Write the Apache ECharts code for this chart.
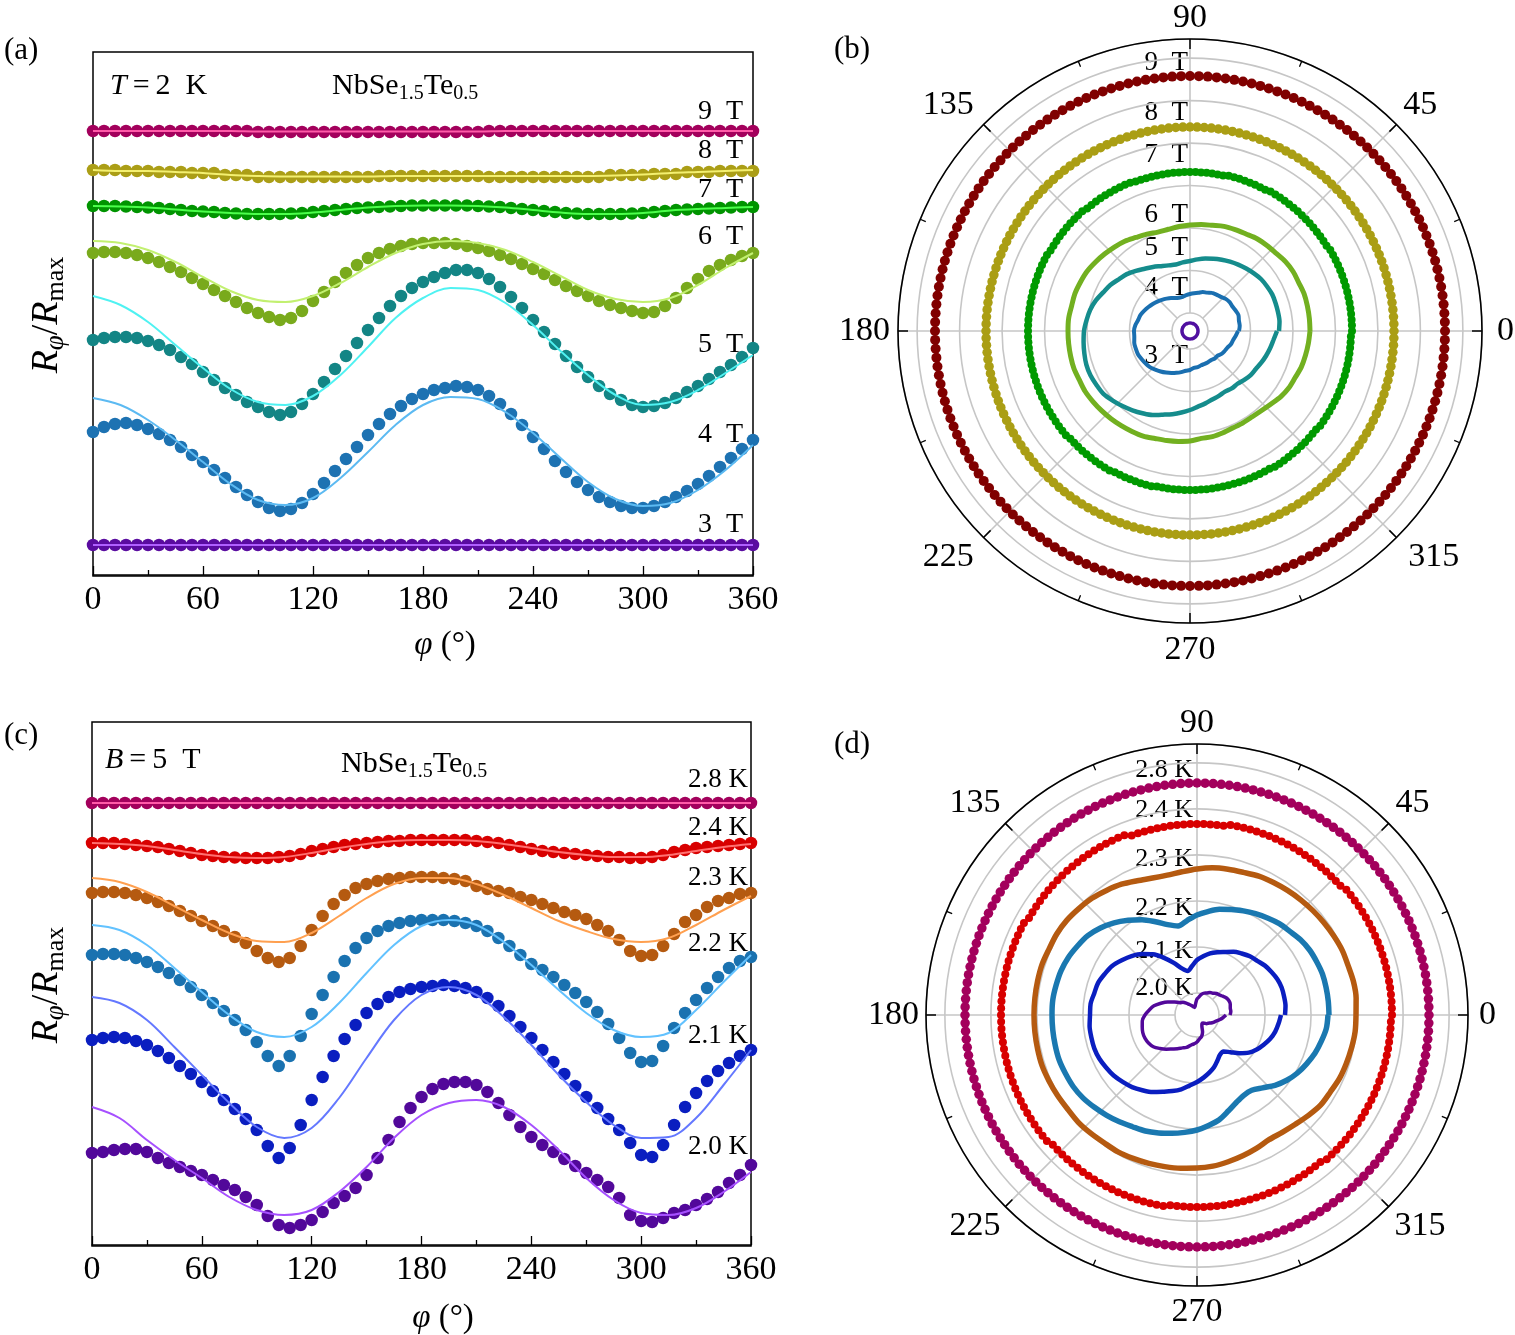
<!DOCTYPE html>
<html>
<head>
<meta charset="utf-8">
<script src="https://cdn.jsdelivr.net/npm/echarts@6/dist/echarts.min.js"></script>
<style>
html, body { margin: 0; padding: 0; background: #fff; }
#main { width: 1515px; height: 1335px; }
</style>
</head>
<body>
<div id="main"></div>
<script>
// ---- panel (a): T = 2 K, offset R/Rmax, points every 6 deg, fits every 15 deg
const a9T = [4.44,4.44,4.44,4.44,4.44,4.44,4.44,4.44,4.44,4.44,
  4.44,4.44,4.44,4.44,4.44,4.43,4.43,4.43,4.43,4.43,
  4.43,4.43,4.43,4.43,4.43,4.43,4.43,4.43,4.43,4.43,
  4.43,4.43,4.43,4.43,4.43,4.43,4.44,4.44,4.44,4.44,
  4.44,4.44,4.44,4.44,4.44,4.44,4.44,4.44,4.44,4.44,
  4.44,4.44,4.44,4.44,4.44,4.44,4.44,4.44,4.44,4.44,4.44];
const a9Tfit = [4.44,4.44,4.44,4.44,4.44,4.44,4.435,4.435,4.435,4.435,4.435,4.435,4.435,4.435,4.435,
  4.44,4.44,4.44,4.44,4.44,4.44,4.44,4.44,4.44,4.44];
const a8T = [4.05,4.05,4.05,4.04,4.04,4.04,4.03,4.03,4.03,4.02,
  4.02,4.02,4.00,4.00,4.00,3.98,3.98,3.98,3.98,3.98,
  3.98,3.98,3.98,3.98,3.98,3.98,3.99,3.99,3.99,3.99,
  3.99,3.99,3.99,3.99,3.99,3.99,3.98,3.98,3.98,3.98,
  3.98,3.98,3.98,3.98,3.98,3.98,3.98,4.00,4.00,4.00,
  4.00,4.01,4.01,4.01,4.03,4.03,4.03,4.04,4.04,4.04,4.04];
const a8Tfit = [4.05,4.04,4.04,4.03,4.02,4.00,3.99,3.985,3.985,3.985,3.985,3.99,3.99,3.99,3.99,
  3.99,3.99,3.99,3.99,3.995,4.005,4.02,4.03,4.04,4.05];
const a7T = [3.69,3.69,3.69,3.685,3.68,3.675,3.67,3.66,3.65,3.64,
  3.635,3.63,3.62,3.615,3.61,3.61,3.61,3.61,3.615,3.62,
  3.63,3.64,3.65,3.66,3.67,3.675,3.68,3.685,3.69,3.695,
  3.695,3.695,3.695,3.695,3.695,3.69,3.685,3.68,3.67,3.66,
  3.65,3.64,3.63,3.62,3.615,3.61,3.61,3.61,3.61,3.615,
  3.62,3.63,3.64,3.65,3.655,3.66,3.665,3.67,3.675,3.68,3.68];
const a7Tfit = [3.69,3.685,3.675,3.655,3.635,3.62,3.61,3.61,3.625,3.65,3.675,3.69,3.695,3.695,3.69,
  3.675,3.65,3.625,3.61,3.61,3.62,3.645,3.66,3.67,3.68];
const a6T = [3.22,3.23,3.23,3.22,3.20,3.17,3.13,3.08,3.03,2.97,
  2.91,2.85,2.79,2.73,2.67,2.62,2.58,2.55,2.57,2.64,
  2.74,2.83,2.93,3.02,3.10,3.17,3.22,3.26,3.29,3.31,
  3.32,3.32,3.32,3.31,3.29,3.27,3.24,3.20,3.16,3.11,
  3.06,3.01,2.95,2.89,2.84,2.79,2.74,2.70,2.67,2.64,
  2.62,2.63,2.69,2.77,2.87,2.96,3.04,3.10,3.15,3.19,3.22];
const a6Tfit = [3.34,3.32,3.25,3.13,2.98,2.84,2.75,2.73,2.79,2.92,3.08,3.22,3.31,3.34,3.32,
  3.25,3.13,2.99,2.85,2.76,2.73,2.77,2.90,3.07,3.22];
const a5T = [2.35,2.37,2.38,2.38,2.37,2.34,2.30,2.25,2.18,2.11,
  2.03,1.95,1.87,1.80,1.73,1.68,1.63,1.60,1.63,1.71,
  1.81,1.93,2.06,2.19,2.32,2.45,2.57,2.69,2.79,2.87,
  2.93,2.98,3.02,3.05,3.05,3.02,2.96,2.88,2.78,2.67,
  2.55,2.43,2.31,2.19,2.08,1.98,1.89,1.81,1.75,1.70,
  1.68,1.69,1.72,1.77,1.83,1.89,1.96,2.03,2.10,2.18,2.27];
const a5Tfit = [2.79,2.70,2.53,2.30,2.07,1.86,1.73,1.70,1.79,2.00,2.28,2.57,2.77,2.87,2.85,
  2.72,2.50,2.24,2.00,1.80,1.70,1.73,1.85,2.02,2.20];
const a4T = [1.43,1.48,1.51,1.52,1.50,1.46,1.41,1.35,1.28,1.20,
  1.13,1.05,0.97,0.88,0.80,0.73,0.67,0.64,0.66,0.72,
  0.81,0.92,1.04,1.16,1.28,1.40,1.51,1.61,1.69,1.76,
  1.81,1.85,1.87,1.89,1.88,1.85,1.79,1.71,1.61,1.50,
  1.38,1.26,1.14,1.03,0.93,0.85,0.78,0.73,0.69,0.67,
  0.67,0.69,0.73,0.78,0.84,0.91,0.99,1.08,1.17,1.26,1.35];
const a4Tfit = [1.77,1.70,1.55,1.35,1.13,0.91,0.75,0.70,0.77,0.97,1.23,1.50,1.70,1.78,1.76,
  1.63,1.42,1.17,0.93,0.76,0.69,0.72,0.85,1.05,1.30];
const a3T = [0.30,0.30,0.30,0.30,0.30,0.30,0.30,0.30,0.30,0.30,
  0.30,0.30,0.30,0.30,0.30,0.30,0.30,0.30,0.30,0.30,
  0.30,0.30,0.30,0.30,0.30,0.30,0.30,0.30,0.30,0.30,
  0.30,0.30,0.30,0.30,0.30,0.30,0.30,0.30,0.30,0.30,
  0.30,0.30,0.30,0.30,0.30,0.30,0.30,0.30,0.30,0.30,
  0.30,0.30,0.30,0.30,0.30,0.30,0.30,0.30,0.30,0.30,0.30];
const a3Tfit = [0.30,0.30,0.30,0.30,0.30,0.30,0.30,0.30,0.30,0.30,0.30,0.30,0.30,0.30,0.30,
  0.30,0.30,0.30,0.30,0.30,0.30,0.30,0.30,0.30,0.30];

// ---- panel (c): B = 5 T
const c28K = [4.42,4.42,4.42,4.42,4.42,4.42,4.42,4.42,4.42,4.42,
  4.42,4.42,4.42,4.42,4.42,4.42,4.42,4.42,4.42,4.42,
  4.42,4.42,4.42,4.42,4.42,4.42,4.42,4.42,4.42,4.42,
  4.42,4.42,4.42,4.42,4.42,4.42,4.42,4.42,4.42,4.42,
  4.42,4.42,4.42,4.42,4.42,4.42,4.42,4.42,4.42,4.42,
  4.42,4.42,4.42,4.42,4.42,4.42,4.42,4.42,4.42,4.42,4.42];
const c28Kfit = [4.42,4.42,4.42,4.42,4.42,4.42,4.42,4.42,4.42,4.42,4.42,4.42,4.42,4.42,4.42,
  4.42,4.42,4.42,4.42,4.42,4.42,4.42,4.42,4.42,4.42];
const c24K = [4.02,4.02,4.02,4.01,4.00,3.99,3.98,3.96,3.94,3.92,
  3.90,3.89,3.88,3.875,3.87,3.87,3.87,3.88,3.89,3.91,
  3.94,3.96,3.98,4.00,4.01,4.02,4.03,4.04,4.04,4.05,
  4.05,4.05,4.05,4.05,4.05,4.04,4.03,4.02,4.00,3.98,
  3.96,3.94,3.93,3.92,3.91,3.90,3.89,3.88,3.88,3.87,
  3.87,3.88,3.90,3.93,3.95,3.97,3.98,3.99,4.00,4.01,4.02];
const c24Kfit = [4.02,4.01,3.99,3.95,3.91,3.88,3.87,3.88,3.92,3.97,4.01,4.04,4.05,4.05,4.04,
  4.01,3.97,3.93,3.90,3.88,3.88,3.90,3.94,3.98,4.01];
const c23K = [3.52,3.53,3.53,3.52,3.50,3.47,3.43,3.39,3.34,3.29,
  3.24,3.19,3.14,3.08,3.02,2.94,2.87,2.83,2.87,2.99,
  3.15,3.29,3.41,3.50,3.57,3.61,3.64,3.66,3.67,3.68,
  3.68,3.68,3.67,3.66,3.64,3.59,3.56,3.54,3.52,3.48,
  3.45,3.41,3.37,3.33,3.30,3.26,3.20,3.14,3.05,2.94,
  2.89,2.90,2.99,3.11,3.23,3.30,3.38,3.44,3.47,3.51,3.52];
const c23Kfit = [3.67,3.63,3.53,3.39,3.25,3.12,3.04,3.03,3.12,3.29,3.47,3.61,3.67,3.67,3.61,
  3.50,3.37,3.24,3.14,3.06,3.03,3.07,3.20,3.35,3.49];
const c22K = [2.90,2.91,2.91,2.90,2.87,2.83,2.78,2.72,2.65,2.58,
  2.50,2.42,2.34,2.25,2.15,2.03,1.89,1.79,1.89,2.09,
  2.31,2.50,2.68,2.84,2.97,3.07,3.14,3.19,3.22,3.24,
  3.25,3.25,3.25,3.24,3.22,3.19,3.14,3.07,2.99,2.90,
  2.81,2.75,2.68,2.60,2.52,2.43,2.33,2.21,2.07,1.92,
  1.83,1.84,1.99,2.17,2.32,2.45,2.57,2.68,2.77,2.84,2.88];
const c22Kfit = [3.20,3.15,3.00,2.77,2.53,2.30,2.13,2.08,2.18,2.42,2.72,3.00,3.19,3.25,3.20,
  3.03,2.80,2.55,2.32,2.15,2.08,2.12,2.35,2.63,2.90];
const c21K = [2.05,2.07,2.08,2.07,2.04,2.00,1.94,1.87,1.79,1.71,
  1.63,1.54,1.45,1.36,1.26,1.15,0.99,0.87,0.97,1.20,
  1.45,1.68,1.89,2.06,2.20,2.32,2.41,2.48,2.53,2.56,
  2.58,2.59,2.60,2.59,2.57,2.53,2.47,2.39,2.29,2.18,
  2.07,1.95,1.83,1.71,1.59,1.48,1.37,1.26,1.15,1.02,
  0.90,0.88,1.00,1.20,1.38,1.52,1.64,1.74,1.82,1.89,1.95];
const c21Kfit = [2.48,2.42,2.25,1.98,1.70,1.42,1.18,1.07,1.17,1.47,1.87,2.25,2.50,2.58,2.50,
  2.28,2.00,1.70,1.43,1.20,1.07,1.08,1.27,1.60,1.95];
const c20K = [0.92,0.93,0.95,0.96,0.96,0.93,0.87,0.82,0.78,0.74,
  0.70,0.65,0.60,0.55,0.48,0.40,0.29,0.20,0.17,0.20,
  0.25,0.33,0.42,0.49,0.57,0.70,0.87,1.05,1.23,1.37,
  1.48,1.56,1.61,1.63,1.63,1.60,1.53,1.42,1.30,1.18,
  1.08,1.00,0.93,0.86,0.79,0.72,0.65,0.58,0.47,0.30,
  0.24,0.23,0.27,0.32,0.35,0.40,0.46,0.53,0.62,0.70,0.80];
const c20Kfit = [1.38,1.27,1.05,0.85,0.67,0.48,0.35,0.30,0.35,0.53,0.78,1.07,1.30,1.42,1.45,
  1.38,1.20,0.95,0.67,0.45,0.32,0.30,0.37,0.53,0.73];

// ---- panel (b): polar R(phi) at 2 K, rings every 2 deg, loops every 6 deg
const b9T = [2.55,2.55,2.55,2.55,2.55,2.55,2.55,2.55,2.55,2.55,2.55,2.55,2.55,2.55,2.55,2.55,2.55,2.55,2.55,2.55,
  2.55,2.55,2.55,2.55,2.55,2.55,2.55,2.55,2.55,2.55,2.55,2.55,2.55,2.55,2.55,2.55,2.55,2.55,2.55,2.55,
  2.55,2.55,2.55,2.55,2.55,2.55,2.55,2.55,2.55,2.55,2.55,2.55,2.55,2.55,2.55,2.55,2.55,2.55,2.55,2.55,
  2.55,2.55,2.55,2.55,2.55,2.55,2.55,2.55,2.55,2.55,2.55,2.55,2.55,2.55,2.55,2.55,2.55,2.55,2.55,2.55,
  2.55,2.55,2.55,2.55,2.55,2.55,2.55,2.55,2.55,2.55,2.55,2.55,2.55,2.55,2.55,2.55,2.55,2.55,2.55,2.55,
  2.55,2.55,2.55,2.55,2.55,2.55,2.55,2.55,2.55,2.55,2.55,2.55,2.55,2.55,2.55,2.55,2.55,2.55,2.55,2.55,
  2.55,2.55,2.55,2.55,2.55,2.55,2.55,2.55,2.55,2.55,2.55,2.55,2.55,2.55,2.55,2.55,2.55,2.55,2.55,2.55,
  2.55,2.55,2.55,2.55,2.55,2.55,2.55,2.55,2.55,2.55,2.55,2.55,2.55,2.55,2.55,2.55,2.55,2.55,2.55,2.55,
  2.55,2.55,2.55,2.55,2.55,2.55,2.55,2.55,2.55,2.55,2.55,2.55,2.55,2.55,2.55,2.55,2.55,2.55,2.55,2.55];
const b8T = [2.04,2.04,2.04,2.04,2.04,2.04,2.04,2.04,2.04,2.04,2.04,2.04,2.04,2.04,2.04,2.04,2.04,2.04,2.04,2.04,
  2.04,2.04,2.04,2.04,2.04,2.04,2.04,2.04,2.04,2.04,2.04,2.04,2.04,2.04,2.04,2.04,2.04,2.04,2.04,2.04,
  2.04,2.04,2.04,2.04,2.04,2.04,2.04,2.04,2.04,2.04,2.04,2.04,2.04,2.04,2.04,2.04,2.04,2.04,2.04,2.04,
  2.04,2.04,2.04,2.04,2.04,2.04,2.04,2.04,2.04,2.04,2.04,2.04,2.04,2.04,2.04,2.04,2.04,2.04,2.04,2.04,
  2.04,2.04,2.04,2.04,2.04,2.04,2.04,2.04,2.04,2.04,2.04,2.04,2.04,2.04,2.04,2.04,2.04,2.04,2.04,2.04,
  2.04,2.04,2.04,2.04,2.04,2.04,2.04,2.04,2.04,2.04,2.04,2.04,2.04,2.04,2.04,2.04,2.04,2.04,2.04,2.04,
  2.04,2.04,2.04,2.04,2.04,2.04,2.04,2.04,2.04,2.04,2.04,2.04,2.04,2.04,2.04,2.04,2.04,2.04,2.04,2.04,
  2.04,2.04,2.04,2.04,2.04,2.04,2.04,2.04,2.04,2.04,2.04,2.04,2.04,2.04,2.04,2.04,2.04,2.04,2.04,2.04,
  2.04,2.04,2.04,2.04,2.04,2.04,2.04,2.04,2.04,2.04,2.04,2.04,2.04,2.04,2.04,2.04,2.04,2.04,2.04,2.04];
const b7T = [1.62,1.62,1.62,1.62,1.62,1.62,1.62,1.62,1.62,1.62,1.62,1.62,1.62,1.62,1.62,1.62,1.61,1.61,1.61,1.61,
  1.61,1.61,1.61,1.61,1.61,1.61,1.61,1.61,1.61,1.61,1.61,1.60,1.60,1.60,1.60,1.60,1.60,1.60,1.60,1.59,
  1.59,1.59,1.59,1.59,1.59,1.59,1.59,1.59,1.59,1.59,1.59,1.59,1.59,1.59,1.59,1.59,1.60,1.60,1.60,1.60,
  1.60,1.60,1.60,1.60,1.60,1.60,1.61,1.61,1.61,1.61,1.61,1.61,1.61,1.61,1.61,1.61,1.62,1.62,1.62,1.62,
  1.62,1.62,1.62,1.62,1.62,1.62,1.62,1.62,1.62,1.62,1.62,1.62,1.62,1.62,1.62,1.62,1.62,1.62,1.62,1.62,
  1.62,1.62,1.62,1.62,1.62,1.62,1.62,1.62,1.62,1.62,1.62,1.61,1.61,1.61,1.61,1.61,1.61,1.61,1.61,1.61,
  1.61,1.60,1.60,1.60,1.60,1.60,1.60,1.60,1.60,1.59,1.59,1.59,1.59,1.59,1.59,1.59,1.59,1.59,1.59,1.59,
  1.59,1.59,1.59,1.59,1.59,1.59,1.59,1.59,1.59,1.59,1.59,1.60,1.60,1.60,1.60,1.60,1.60,1.60,1.60,1.60,
  1.60,1.60,1.61,1.61,1.61,1.61,1.61,1.61,1.61,1.61,1.61,1.61,1.61,1.61,1.61,1.61,1.61,1.61,1.61,1.61];
const b6T = [1.20,1.20,1.20,1.20,1.19,1.19,1.18,1.16,1.15,1.14,
  1.12,1.11,1.10,1.08,1.07,1.06,1.05,1.04,1.04,1.06,
  1.08,1.11,1.13,1.15,1.17,1.19,1.20,1.21,1.21,1.22,
  1.22,1.22,1.22,1.22,1.21,1.21,1.20,1.19,1.18,1.17,
  1.16,1.15,1.13,1.12,1.11,1.10,1.08,1.08,1.07,1.06,
  1.06,1.06,1.07,1.09,1.12,1.14,1.15,1.17,1.18,1.19,1.20];
const b5T = [0.89,0.90,0.90,0.90,0.90,0.89,0.88,0.86,0.84,0.82,
  0.80,0.78,0.76,0.74,0.72,0.70,0.69,0.68,0.69,0.71,
  0.74,0.77,0.81,0.85,0.88,0.92,0.95,0.99,1.02,1.04,
  1.06,1.07,1.08,1.09,1.09,1.08,1.07,1.04,1.01,0.98,
  0.95,0.92,0.88,0.85,0.82,0.79,0.76,0.74,0.72,0.71,
  0.70,0.71,0.71,0.73,0.75,0.76,0.78,0.80,0.82,0.84,0.87];
const b4T = [0.49,0.50,0.50,0.51,0.50,0.49,0.49,0.48,0.46,0.45,
  0.44,0.42,0.41,0.39,0.38,0.37,0.36,0.35,0.35,0.36,
  0.38,0.40,0.42,0.44,0.46,0.48,0.50,0.52,0.53,0.55,
  0.56,0.56,0.57,0.57,0.57,0.56,0.55,0.54,0.52,0.50,
  0.48,0.46,0.44,0.42,0.40,0.39,0.37,0.37,0.36,0.36,
  0.36,0.36,0.37,0.37,0.39,0.40,0.41,0.43,0.44,0.46,0.48];
const b3T = [0.08,0.08,0.08,0.08,0.08,0.08,0.08,0.08,0.08,0.08,0.08,0.08,0.08,0.08,0.08,0.08,0.08,0.08,
  0.08,0.08,0.08,0.08,0.08,0.08,0.08,0.08,0.08,0.08,0.08,0.08,0.08,0.08,0.08,0.08,0.08,0.08,0.08];

// ---- panel (d): polar R(phi) at 5 T
const d28K = [2.32,2.32,2.32,2.32,2.32,2.32,2.32,2.32,2.32,2.32,2.32,2.32,2.32,2.32,2.32,2.32,2.32,2.32,2.32,2.32,
  2.32,2.32,2.32,2.32,2.32,2.32,2.32,2.32,2.32,2.32,2.32,2.32,2.32,2.32,2.32,2.32,2.32,2.32,2.32,2.32,
  2.32,2.32,2.32,2.32,2.32,2.32,2.32,2.32,2.32,2.32,2.32,2.32,2.32,2.32,2.32,2.32,2.32,2.32,2.32,2.32,
  2.32,2.32,2.32,2.32,2.32,2.32,2.32,2.32,2.32,2.32,2.32,2.32,2.32,2.32,2.32,2.32,2.32,2.32,2.32,2.32,
  2.32,2.32,2.32,2.32,2.32,2.32,2.32,2.32,2.32,2.32,2.32,2.32,2.32,2.32,2.32,2.32,2.32,2.32,2.32,2.32,
  2.32,2.32,2.32,2.32,2.32,2.32,2.32,2.32,2.32,2.32,2.32,2.32,2.32,2.32,2.32,2.32,2.32,2.32,2.32,2.32,
  2.32,2.32,2.32,2.32,2.32,2.32,2.32,2.32,2.32,2.32,2.32,2.32,2.32,2.32,2.32,2.32,2.32,2.32,2.32,2.32,
  2.32,2.32,2.32,2.32,2.32,2.32,2.32,2.32,2.32,2.32,2.32,2.32,2.32,2.32,2.32,2.32,2.32,2.32,2.32,2.32,
  2.32,2.32,2.32,2.32,2.32,2.32,2.32,2.32,2.32,2.32,2.32,2.32,2.32,2.32,2.32,2.32,2.32,2.32,2.32,2.32];
const d24K = [1.95,1.95,1.95,1.95,1.95,1.95,1.95,1.95,1.95,1.95,1.95,1.95,1.95,1.95,1.95,1.95,1.95,1.95,1.95,1.95,
  1.95,1.93,1.93,1.93,1.93,1.93,1.93,1.93,1.93,1.93,1.93,1.93,1.93,1.93,1.93,1.93,1.93,1.93,1.93,1.93,
  1.93,1.91,1.91,1.91,1.91,1.91,1.91,1.91,1.91,1.91,1.91,1.91,1.91,1.91,1.91,1.91,1.94,1.94,1.94,1.94,
  1.94,1.94,1.94,1.94,1.94,1.94,1.94,1.94,1.94,1.94,1.94,1.94,1.94,1.94,1.94,1.94,1.96,1.96,1.96,1.96,
  1.96,1.96,1.96,1.96,1.96,1.96,1.96,1.96,1.96,1.96,1.96,1.96,1.96,1.96,1.96,1.96,1.96,1.96,1.96,1.96,
  1.96,1.96,1.96,1.96,1.96,1.96,1.96,1.96,1.96,1.96,1.96,1.94,1.94,1.94,1.94,1.94,1.94,1.94,1.94,1.94,
  1.94,1.94,1.94,1.94,1.94,1.94,1.94,1.94,1.94,1.94,1.94,1.92,1.92,1.92,1.92,1.92,1.92,1.92,1.92,1.92,
  1.92,1.92,1.92,1.92,1.92,1.92,1.92,1.92,1.92,1.92,1.92,1.92,1.92,1.92,1.92,1.92,1.94,1.94,1.94,1.94,
  1.94,1.94,1.94,1.94,1.94,1.94,1.94,1.94,1.94,1.94,1.94,1.94,1.94,1.94,1.94,1.94,1.94,1.94,1.94,1.94];
const d23K = [1.59,1.60,1.60,1.59,1.59,1.58,1.57,1.56,1.55,1.54,
  1.53,1.52,1.50,1.49,1.48,1.46,1.44,1.43,1.44,1.47,
  1.51,1.54,1.57,1.59,1.61,1.62,1.62,1.63,1.63,1.63,
  1.63,1.63,1.63,1.63,1.62,1.61,1.60,1.60,1.59,1.58,
  1.58,1.57,1.56,1.55,1.54,1.53,1.52,1.50,1.48,1.46,
  1.44,1.45,1.47,1.50,1.53,1.54,1.56,1.57,1.58,1.59,1.59];
const d22K = [1.32,1.32,1.32,1.32,1.31,1.30,1.28,1.25,1.23,1.20,
  1.17,1.14,1.11,1.08,1.04,1.00,0.95,0.91,0.95,1.02,
  1.10,1.17,1.24,1.30,1.35,1.38,1.41,1.43,1.44,1.45,
  1.45,1.45,1.45,1.45,1.44,1.43,1.41,1.38,1.35,1.32,
  1.29,1.27,1.24,1.21,1.18,1.15,1.11,1.07,1.01,0.96,
  0.93,0.93,0.98,1.05,1.11,1.16,1.20,1.24,1.27,1.30,1.31];
const d21K = [0.88,0.89,0.89,0.89,0.88,0.86,0.84,0.81,0.79,0.76,
  0.73,0.69,0.66,0.63,0.59,0.55,0.49,0.45,0.49,0.57,
  0.66,0.75,0.82,0.88,0.93,0.98,1.01,1.04,1.05,1.07,
  1.07,1.08,1.08,1.08,1.07,1.05,1.03,1.00,0.97,0.93,
  0.89,0.84,0.80,0.76,0.71,0.67,0.63,0.59,0.55,0.50,
  0.46,0.45,0.50,0.57,0.64,0.69,0.73,0.77,0.80,0.82,0.84];
const d20K = [0.33,0.34,0.34,0.35,0.35,0.34,0.32,0.30,0.29,0.27,
  0.26,0.24,0.23,0.21,0.18,0.16,0.12,0.09,0.08,0.09,
  0.11,0.13,0.16,0.19,0.21,0.26,0.32,0.38,0.44,0.48,
  0.52,0.55,0.56,0.57,0.57,0.56,0.54,0.50,0.46,0.42,
  0.39,0.36,0.34,0.31,0.29,0.27,0.24,0.22,0.18,0.12,
  0.10,0.10,0.11,0.13,0.14,0.16,0.18,0.20,0.23,0.26,0.29];

const xTicks = [0, 60, 120, 180, 240, 300, 360];
const angleTicks = [0, 45, 90, 135, 180, 225, 270, 315];

const SERIF = '"Liberation Serif", "DejaVu Serif", serif';
const chart = echarts.init(document.getElementById('main'));

const series = [];
function cart(gi, pts, fit, c, fc) {
  const s1 = 360 / (pts.length - 1), s2 = 360 / (fit.length - 1);
  series.push({ type: 'scatter', xAxisIndex: gi, yAxisIndex: gi, symbolSize: 12.5, z: 2,
    itemStyle: { color: c, opacity: 1 }, data: pts.map((v, i) => [i * s1, v]) });
  series.push({ type: 'line', xAxisIndex: gi, yAxisIndex: gi, smooth: 0.35, showSymbol: false, z: 3,
    lineStyle: { color: fc, width: 2 }, data: fit.map((v, i) => [i * s2, v]) });
}
function ring(pi, arr, c, size) {
  const s = 360 / arr.length;
  series.push({ type: 'scatter', coordinateSystem: 'polar', polarIndex: pi, symbolSize: size,
    itemStyle: { color: c, opacity: 1 }, data: arr.map((r, i) => [r, i * s]) });
}
function loop(pi, arr, c, w) {
  const s = 360 / (arr.length - 1);
  series.push({ type: 'line', coordinateSystem: 'polar', polarIndex: pi, smooth: 0.3, showSymbol: false,
    lineStyle: { color: c, width: w }, data: arr.map((r, i) => [r, i * s]) });
}

cart(0, a9T, a9Tfit, '#a3005c', '#ff5aa8');
cart(0, a8T, a8Tfit, '#ab9e16', '#f4f070');
cart(0, a7T, a7Tfit, '#009400', '#4cff4c');
cart(0, a6T, a6Tfit, '#79aa1c', '#c2f070');
cart(0, a5T, a5Tfit, '#138585', '#4ff2f2');
cart(0, a4T, a4Tfit, '#1d72b2', '#5cbaf2');
cart(0, a3T, a3Tfit, '#5a0ca0', '#b060ff');

cart(1, c28K, c28Kfit, '#a3005c', '#ff5aa8');
cart(1, c24K, c24Kfit, '#d80000', '#ff7070');
cart(1, c23K, c23Kfit, '#b55a10', '#ffa050');
cart(1, c22K, c22Kfit, '#1a72b0', '#62c2ff');
cart(1, c21K, c21Kfit, '#0a1ec0', '#6478ff');
cart(1, c20K, c20Kfit, '#52089a', '#a650ff');

ring(1, b9T, '#800000', 10);
ring(1, b8T, '#aa9e14', 9.5);
ring(1, b7T, '#009a00', 8);
loop(1, b6T, '#72b020', 5);
loop(1, b5T, '#158c8c', 4.5);
loop(1, b4T, '#1a6fb0', 4);
loop(1, b3T, '#5010a0', 3.5);

ring(3, d28K, '#a3005c', 9.5);
ring(3, d24K, '#d80000', 8);
loop(3, d23K, '#b55a10', 5.5);
loop(3, d22K, '#1a78b0', 5.5);
loop(3, d21K, '#0a1ec0', 4.5);
loop(3, d20K, '#52089a', 3.5);

function xAxisFor(gi) {
  return { gridIndex: gi, type: 'value', min: 0, max: 360, interval: 60,
    axisLine: { show: true, lineStyle: { color: '#000', width: 1.5 } },
    axisTick: { show: true, inside: true, length: 9, lineStyle: { color: '#000', width: 1.3 } },
    minorTick: { show: true, splitNumber: 2, length: 5, lineStyle: { color: '#000', width: 1.3 } },
    axisLabel: { color: '#000', fontSize: 34, fontFamily: SERIF, margin: 7,
      formatter: v => xTicks.includes(v) ? String(v) : '' },
    splitLine: { show: false } };
}
function gridAngle(pi) {
  return { polarIndex: pi, type: 'value', min: 0, max: 360, interval: 45, startAngle: 0, clockwise: false,
    axisLine: { show: false }, axisTick: { show: false }, minorTick: { show: false }, axisLabel: { show: false },
    splitLine: { show: true, lineStyle: { color: '#c6c6c6', width: 1.6 } } };
}
// per-label padding [top, right, bottom, left] to nudge the angle labels
function angleRich(pads) {
  const r = {};
  angleTicks.forEach(t => {
    r['p' + t] = { fontSize: 34, fontFamily: SERIF, color: '#000', padding: pads[t] || [0, 0, 0, 0] };
  });
  return r;
}
function dataAngle(pi, pads) {
  return { polarIndex: pi, type: 'value', min: 0, max: 360, interval: 45, startAngle: 0, clockwise: false,
    axisLine: { show: true, lineStyle: { color: '#000', width: 1.6 } },
    axisTick: { show: true, inside: true, length: 10, lineStyle: { color: '#000', width: 1.5 } },
    minorTick: { show: true, splitNumber: 2, length: 6, lineStyle: { color: '#000', width: 1.3 } },
    axisLabel: { show: true, color: '#000', fontSize: 34, fontFamily: SERIF, margin: 4,
      formatter: v => angleTicks.includes(v) ? '{p' + v + '|' + v + '}' : '',
      rich: angleRich(pads) },
    splitLine: { show: false } };
}
function gridRadius(pi, max) {
  return { polarIndex: pi, type: 'value', min: 0, max: max, interval: 1,
    axisLine: { show: false }, axisTick: { show: false }, axisLabel: { show: false },
    splitLine: { show: true, lineStyle: { color: '#c6c6c6', width: 1.6 } } };
}

const rich = s => ({
  n: { fontFamily: SERIF, fontSize: s, lineHeight: s + 6, verticalAlign: 'middle', fill: '#000' },
  i: { fontFamily: SERIF, fontSize: s, fontStyle: 'italic', lineHeight: s + 6, verticalAlign: 'middle', fill: '#000' },
  s: { fontFamily: SERIF, fontSize: Math.round(s * 0.68), lineHeight: Math.round(s * 0.68) + 2, verticalAlign: 'bottom', fill: '#000' },
  si: { fontFamily: SERIF, fontSize: Math.round(s * 0.7), fontStyle: 'italic', lineHeight: Math.round(s * 0.7) + 2, verticalAlign: 'bottom', fill: '#000' }
});
function txt(x, y, text, size, align, rot) {
  return { type: 'text', x: x, y: y, rotation: rot || 0, silent: true,
    style: { text: text, fill: '#000', fontFamily: SERIF, fontSize: size, align: align || 'left',
      verticalAlign: 'middle', rich: rich(size) } };
}

const graphics = [
  txt(4, 51, '(a)', 31), txt(834, 50, '(b)', 31), txt(4, 736, '(c)', 31), txt(834, 745, '(d)', 31),
  txt(110, 86, '{i|T}{n|\u2009=\u20092\u2002K}', 30),
  txt(332, 86, '{n|NbSe}{s|1.5}{n|Te}{s|0.5}', 30),
  txt(105, 760, '{i|B}{n|\u2009=\u20095\u2002T}', 30),
  txt(341, 764, '{n|NbSe}{s|1.5}{n|Te}{s|0.5}', 30),
  txt(743, 112, '9\u2002T', 28, 'right'), txt(743, 151, '8\u2002T', 28, 'right'),
  txt(743, 190, '7\u2002T', 28, 'right'), txt(743, 237, '6\u2002T', 28, 'right'),
  txt(743, 345, '5\u2002T', 28, 'right'), txt(743, 435, '4\u2002T', 28, 'right'),
  txt(743, 525, '3\u2002T', 28, 'right'),
  txt(748, 780, '2.8 K', 27, 'right'), txt(748, 828, '2.4 K', 27, 'right'),
  txt(748, 878, '2.3 K', 27, 'right'), txt(748, 944, '2.2 K', 27, 'right'),
  txt(748, 1036, '2.1 K', 27, 'right'), txt(748, 1147, '2.0 K', 27, 'right'),
  txt(1188, 63, '9\u2002T', 27, 'right'), txt(1188, 113, '8\u2002T', 27, 'right'),
  txt(1188, 155, '7\u2002T', 27, 'right'), txt(1188, 215, '6\u2002T', 27, 'right'),
  txt(1188, 248, '5\u2002T', 27, 'right'), txt(1188, 288, '4\u2002T', 27, 'right'),
  txt(1188, 356, '3\u2002T', 27, 'right'),
  txt(1193, 770, '2.8 K', 26, 'right'), txt(1193, 810, '2.4 K', 26, 'right'),
  txt(1193, 859, '2.3 K', 26, 'right'), txt(1193, 908, '2.2 K', 26, 'right'),
  txt(1193, 951, '2.1 K', 26, 'right'), txt(1193, 988, '2.0 K', 26, 'right'),
  txt(445, 645, '{i|\u03c6}{n| (\u00b0)}', 33, 'center'),
  txt(443, 1318, '{i|\u03c6}{n| (\u00b0)}', 33, 'center'),
  txt(47, 315, '{i|R}{si|\u03c6}{n|/}{i|R}{s|max}', 38, 'center', Math.PI / 2),
  txt(47, 985, '{i|R}{si|\u03c6}{n|/}{i|R}{s|max}', 38, 'center', Math.PI / 2)
];

const padsB = { 0: [0, 0, 0, 11], 45: [0, 0, 0, 4], 135: [0, 7, 0, 0], 180: [0, 4, 0, 0],
  225: [0, 7, 0, 0], 270: [6, 0, 0, 0], 315: [0, 0, 0, 9] };
const padsD = { 0: [0, 0, 0, 7], 45: [0, 0, 0, 4], 135: [0, 2, 0, 0], 180: [0, 3, 0, 0],
  225: [0, 2, 0, 0], 270: [5, 0, 0, 0], 315: [0, 0, 0, 3] };

chart.setOption({
  animation: false,
  backgroundColor: '#fff',
  grid: [
    { left: 93, top: 52, width: 660, height: 524, show: true, borderColor: '#000', borderWidth: 1.5 },
    { left: 92, top: 722, width: 659, height: 524, show: true, borderColor: '#000', borderWidth: 1.5 }
  ],
  xAxis: [xAxisFor(0), xAxisFor(1)],
  yAxis: [
    { gridIndex: 0, type: 'value', min: -0.01, max: 5.23, show: false },
    { gridIndex: 1, type: 'value', min: -0.01, max: 5.23, show: false }
  ],
  polar: [
    { center: [1190, 331], radius: [18, 292] },
    { center: [1190, 331], radius: [0, 292] },
    { center: [1197, 1015], radius: [22, 271] },
    { center: [1197, 1015], radius: [0, 271] }
  ],
  angleAxis: [gridAngle(0), dataAngle(1, padsB), gridAngle(2), dataAngle(3, padsD)],
  radiusAxis: [
    gridRadius(0, 6.45),
    { polarIndex: 1, type: 'value', min: 0, max: 2.92, show: false },
    gridRadius(2, 5.41),
    { polarIndex: 3, type: 'value', min: 0, max: 2.71, show: false }
  ],
  series: series,
  graphic: graphics
});
</script>
</body>
</html>
